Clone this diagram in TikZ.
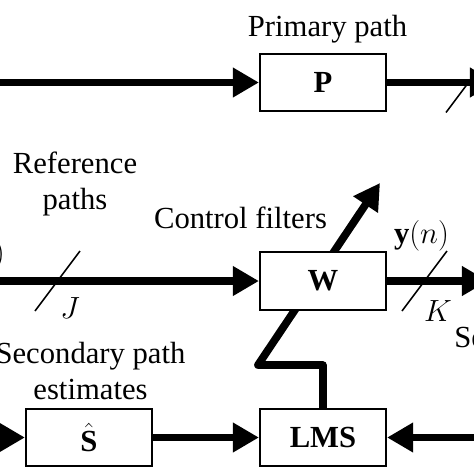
\RequirePackage{fix-cm}
\documentclass[tikz,border=0pt]{standalone}
\usepackage{fontspec}
\setmainfont{Liberation Serif}
\usetikzlibrary{arrows.meta, backgrounds}

\begin{document}
\begin{tikzpicture}[x=0.025cm, y=-0.025cm,
    every node/.style={font=\fontsize{21.8}{25.6}\selectfont},
    block/.style={draw, line width=1.5pt, fill=white, minimum width=3.15cm, minimum height=1.43cm, inner sep=0pt},
    sig/.style={line width=5.5pt, -{Triangle[length=18.5pt, width=20pt]}},
    tick/.style={line width=1.1pt}]

% Fix the frame
\useasboundingbox (0,0) rectangle (474,474);
\clip (0,0) rectangle (474,474);

% Draw blocks
\node[block] (P) at (323, 82.5) {$\mathbf{P}$};
\node[block] (W) at (323, 281) {$\mathbf{W}$};
\node[block] (Shat) at (89, 437.5) {$\hat{\mathbf{S}}$};
\node[block] (LMS) at (323, 437.5) {$\mathbf{LMS}$};

% Draw labels
\node[anchor=base] (primary) at (327.5, 36) {Primary path};
\node[align=center] (refpaths) at (75, 183.5) {Reference\\paths};
\node[anchor=base] (control) at (240.5, 228) {Control filters};
\node[align=center] (secest) at (90.5, 371) {Secondary path\\estimates};
\node[anchor=base] (yn) at (421.5, 243) {$\mathbf{y}(n)$};
\node[anchor=base east, inner sep=0pt] (xn) at (5, 262) {$\mathbf{x}(n)$};
\node[anchor=base west, inner sep=0pt] (secpath) at (454, 347) {Secondary path};
\node (J) at (70, 308) {$J$};
\node (K) at (438, 311) {$K$};

% Free ends of the signals
\coordinate (xin) at (-20, 82.5);
\coordinate (dout) at (496, 82.5);
\coordinate (rin) at (-20, 281);
\coordinate (yout) at (488, 281);
\coordinate (sin) at (-30, 437.5);
\coordinate (ein) at (500, 437.5);
\coordinate (bend) at (258, 365);
\coordinate (tip) at (380, 183);

% Draw signal arrows
\draw[sig] (xin) -- (P);
\draw[sig] (P) -- (dout);
\draw[sig] (rin) -- (W);
\draw[sig] (W) -- (yout);
\draw[sig] (sin) -- (Shat);
\draw[sig] (Shat) -- (LMS);
\draw[sig] (ein) -- (LMS);

% Draw the update arrow behind the filters
\begin{pgfonlayer}{background}
\draw[sig, line join=round] (LMS.north) |- (bend) -- (tip);
\end{pgfonlayer}

% Draw channel-count slashes
\foreach \x/\y in {468.5/82.5, 57.5/281, 424.5/281} {
    \draw[tick] (\x-22.5, \y+30) -- (\x+22.5, \y-30);
}

\end{tikzpicture}
\end{document}
